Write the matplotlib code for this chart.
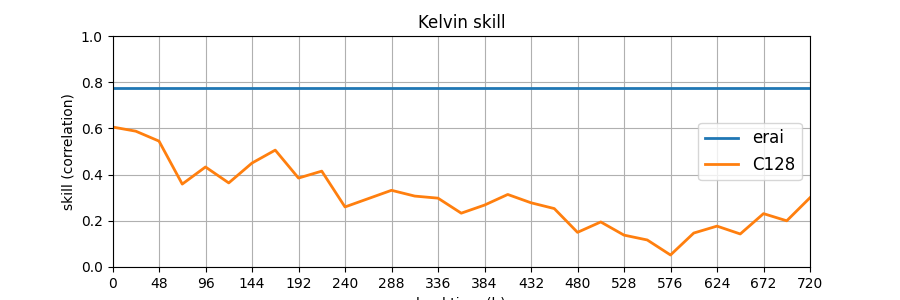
import matplotlib
matplotlib.use("Agg")
import matplotlib.pyplot as plt
import numpy as np

lead = np.arange(0, 721, 24)
erai = [0.775] * len(lead)
c128 = [0.606, 0.588, 0.545, 0.359, 0.433, 0.364, 0.450, 0.506, 0.385, 0.415,
        0.260, 0.296, 0.332, 0.307, 0.298, 0.233, 0.268, 0.314, 0.278, 0.253,
        0.150, 0.195, 0.138, 0.117, 0.052, 0.147, 0.177, 0.143, 0.231, 0.200,
        0.300]
xticks = np.arange(0, 721, 48)

fig, ax = plt.subplots(figsize=(9, 3), dpi=100)
ax.plot(lead, erai, label="erai", linewidth=2)
ax.plot(lead, c128, label="C128", linewidth=2)
ax.set_xlim(0, 720)
ax.set_ylim(0, 1)
ax.set_xticks(xticks)
ax.grid(True)
ax.legend(loc="center right", fontsize=12)
ax.set_title("Kelvin skill")
ax.set_xlabel("lead time (h)")
ax.set_ylabel("skill (correlation)")
fig.savefig("out.png")
